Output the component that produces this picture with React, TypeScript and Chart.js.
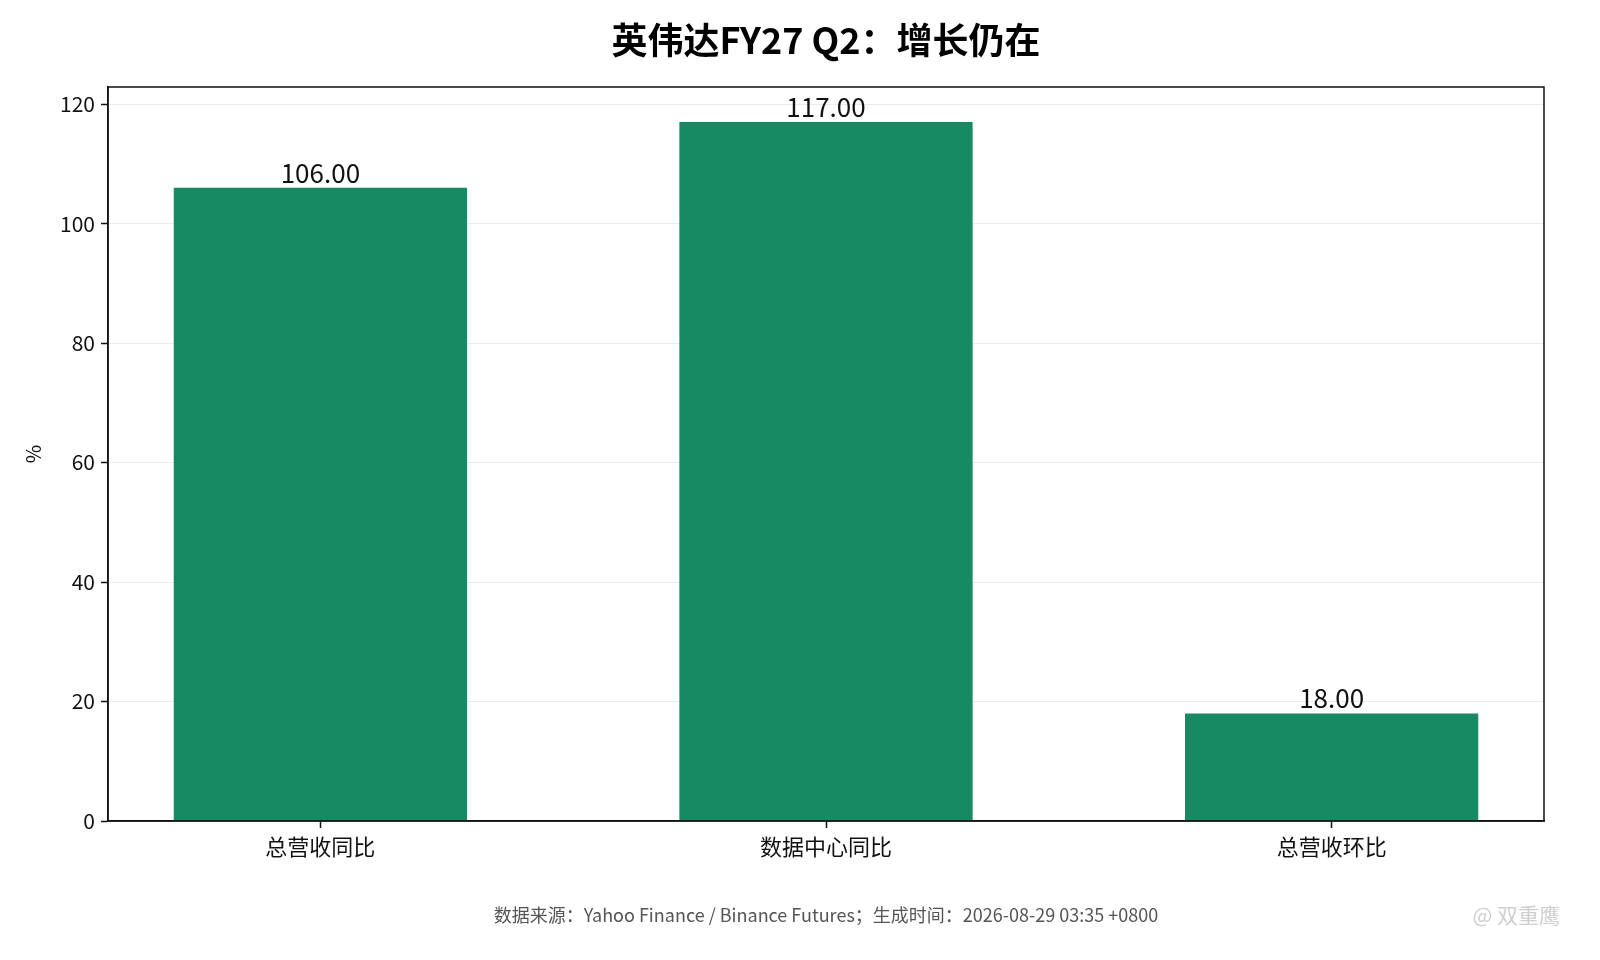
import { useEffect, useRef } from 'react';
import Chart from 'chart.js/auto';

const categories = ['总营收同比', '数据中心同比', '总营收环比'];
const growthValues = [106, 117, 18];
const yTicks = [0, 20, 40, 60, 80, 100, 120];

const TITLE = '英伟达FY27 Q2：增长仍在';
const FOOTER = '数据来源：Yahoo Finance / Binance Futures；生成时间：2026-08-29 03:35 +0800';
const WATERMARK = '@ 双重鹰';
const FONT = '"Noto Sans CJK SC", "Noto Sans", sans-serif';

const App = () => {
  const chartRef = useRef<HTMLCanvasElement | null>(null);
  const chartInstance = useRef<Chart | null>(null);

  useEffect(() => {
    document.body.style.margin = '0';
    if (!chartRef.current) return;
    const ctx = chartRef.current.getContext('2d');
    if (!ctx) return;

    if (chartInstance.current) {
      chartInstance.current.destroy();
    }

    // title, footer, axis title, value labels, frame
    const decorations = {
      id: 'decorations',
      afterDatasetsDraw(chart: any) {
        const c = chart.ctx;
        const meta = chart.getDatasetMeta(0);
        c.save();
        c.fillStyle = '#111';
        c.font = `26px ${FONT}`;
        c.textAlign = 'center';
        c.textBaseline = 'bottom';
        meta.data.forEach((bar: any, i: number) => {
          c.fillText(growthValues[i].toFixed(2), bar.x, bar.y - 2);
        });
        c.restore();
      },
      afterDraw(chart: any) {
        const c = chart.ctx;
        const { left, right, top, bottom } = chart.chartArea;
        c.save();
        c.strokeStyle = '#111';
        c.lineWidth = 1.5;
        c.strokeRect(left, top, right - left, bottom - top);

        c.fillStyle = '#000';
        c.font = `bold 36px ${FONT}`;
        c.textAlign = 'center';
        c.textBaseline = 'middle';
        c.fillText(TITLE, (left + right) / 2, 40);

        c.font = `18px ${FONT}`;
        c.fillStyle = '#555';
        c.fillText(FOOTER, (left + right) / 2, 915);

        c.font = `21px ${FONT}`;
        c.fillStyle = '#cfcfcf';
        c.textAlign = 'right';
        c.fillText(WATERMARK, 1560, 915);

        c.translate(33, (top + bottom) / 2);
        c.rotate(-Math.PI / 2);
        c.fillStyle = '#111';
        c.font = `20px ${FONT}`;
        c.textAlign = 'center';
        c.fillText('%', 0, 0);
        c.restore();
      },
    };

    chartInstance.current = new Chart(ctx, {
      type: 'bar',
      data: {
        datasets: [
          {
            data: growthValues.map((v, i) => ({ x: i, y: v })),
            backgroundColor: '#188a63',
            barPercentage: 0.58,
            categoryPercentage: 1,
          },
        ],
      },
      options: {
        responsive: false,
        animation: false,
        devicePixelRatio: 1,
        layout: { padding: { top: 87, right: 56, left: 0, bottom: 0 } },
        plugins: {
          legend: { display: false },
          title: { display: false },
          tooltip: { enabled: false },
        },
        scales: {
          x: {
            type: 'linear',
            min: -0.42,
            max: 2.42,
            offset: false,
            afterFit: (scale: any) => {
              scale.height = 139;
            },
            afterBuildTicks: (scale: any) => {
              scale.ticks = categories.map((_, i) => ({ value: i }));
            },
            grid: {
              offset: false,
              drawOnChartArea: false,
              tickLength: 7,
              tickColor: '#111',
              tickWidth: 1.5,
            },
            border: { color: '#111', width: 1.5 },
            ticks: {
              color: '#111',
              padding: 5,
              maxRotation: 0,
              font: { family: FONT, size: 22 },
              callback: (v: any) => categories[Math.round(Number(v))] ?? '',
            },
          },
          y: {
            min: 0,
            max: 122.85,
            z: 1,
            afterFit: (scale: any) => {
              scale.width = 108;
            },
            afterBuildTicks: (scale: any) => {
              scale.ticks = yTicks.map((v) => ({ value: v }));
            },
            grid: {
              color: 'rgba(210,210,210,0.45)',
              lineWidth: 1,
              tickLength: 7,
              tickColor: '#111',
              tickWidth: 1.5,
            },
            border: { color: '#111', width: 1.5 },
            ticks: {
              color: '#111',
              padding: 6,
              font: { family: FONT, size: 21 },
            },
          },
        },
      },
      plugins: [decorations],
    });

    return () => {
      if (chartInstance.current) {
        chartInstance.current.destroy();
        chartInstance.current = null;
      }
    };
  }, []);

  return (
    <div style={{ width: '1600px', height: '960px', background: '#fff' }}>
      <canvas ref={chartRef} width={1600} height={960} />
    </div>
  );
};

export default App;
